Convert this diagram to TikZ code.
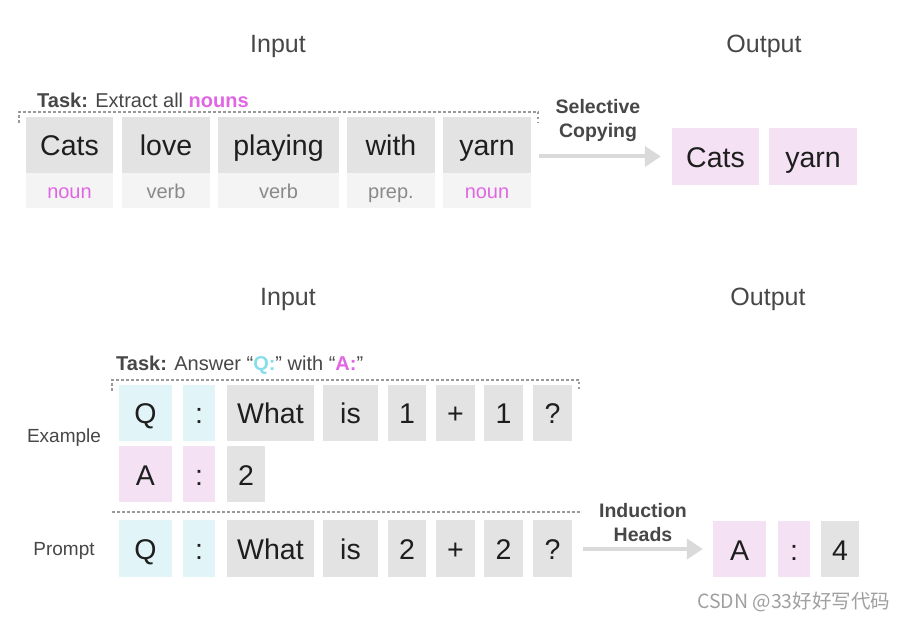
\documentclass[tikz,border=0pt]{standalone}
\usepackage{fontspec}
\setmainfont{Liberation Sans}
\newfontfamily\cjkfont{Noto Sans CJK SC}
\usetikzlibrary{arrows.meta,positioning}

\definecolor{tokgray}{HTML}{E3E3E3}
\definecolor{taggray}{HTML}{F4F4F4}
\definecolor{tokpink}{HTML}{F4E1F4}
\definecolor{tokcyan}{HTML}{E1F4F7}
\definecolor{nounpink}{HTML}{E066E4}
\definecolor{qcyan}{HTML}{86DEEA}
\definecolor{inkdark}{HTML}{1E1E1E}
\definecolor{labelgray}{HTML}{474747}
\definecolor{taggrey}{HTML}{8A8A8A}
\definecolor{flowgray}{HTML}{DADADA}
\definecolor{wmgray}{HTML}{A0A0A0}

\begin{document}
\begin{tikzpicture}[x=1pt, y=-1pt,
    word/.style={rectangle, fill=tokgray, minimum height=56pt, inner sep=0pt, text=inkdark, text height=22pt, text depth=0pt, font=\fontsize{28.5}{31}\selectfont},
    tag/.style={rectangle, fill=taggray, minimum height=35pt, inner sep=0pt, text height=15pt, text depth=0pt, font=\fontsize{20}{22}\selectfont},
    title/.style={font=\fontsize{25}{28}\selectfont, text=labelgray},
    tasklabel/.style={anchor=base west, inner sep=0pt, font=\fontsize{20}{22}\selectfont, text=labelgray},
    rowlabel/.style={font=\fontsize{19}{22}\selectfont, text=labelgray},
    flowlabel/.style={align=center, font=\bfseries\fontsize{19.5}{24}\selectfont, text=labelgray},
    flow/.style={line width=4pt, draw=flowgray, -{Triangle[length=16pt,width=20pt]}},
    bracket/.style={draw=gray!80, line width=1.1pt, dash pattern=on 2.5pt off 2.5pt}
]
\fill[white] (0,0) rectangle (906,620);
\useasboundingbox (0,0) rectangle (906,620);

% Selective copying
\node[title] (in1) at (278,46) {Input};
\node[title] (out1) at (764,46) {Output};
\node[tasklabel] (task1) at (37,108) {\textbf{Task:} Extract all \textbf{\textcolor{nounpink}{nouns}}};
\draw[bracket] (19,123) |- (538,112) -- (538,123);

\foreach \name/\txt/\xc/\w/\kind/\kcol in {cats/Cats/69.5/87/noun/nounpink, love/love/166/88/verb/taggrey, playing/playing/278.5/121/verb/taggrey, with/with/391/88/prep./taggrey, yarn/yarn/487/88/noun/nounpink} {
    \node[word, minimum width=\w pt] (\name) at (\xc,145) {\txt};
    \node[tag, minimum width=\w pt, text=\kcol, below=0pt of \name] (\name-tag) {\kind};
}

\node[word, fill=tokpink, minimum width=87pt, minimum height=57pt] (outcats) at (715.5,156.5) {Cats};
\node[word, fill=tokpink, minimum width=88pt, minimum height=57pt] (outyarn) at (813,156.5) {yarn};

\node[flowlabel] (sel) at (598,121) {Selective\\Copying};
\draw[flow, shorten <=8pt, shorten >=11pt] (yarn.east |- outcats.west) -- (outcats.west);

% Induction heads
\node[title] (in2) at (288,299) {Input};
\node[title] (out2) at (768,299) {Output};
\node[tasklabel] (task2) at (116,371) {\textbf{Task:} Answer “\textbf{\textcolor{qcyan}{Q:}}” with “\textbf{\textcolor{nounpink}{A:}}”};
\draw[bracket] (112,391) |- (579,380) -- (579,391);
\draw[bracket] (112,512) -- (580,512);

\node[rowlabel] (exlabel) at (64,438) {Example};
\node[rowlabel] (prlabel) at (64,551) {Prompt};

\foreach \i/\txt/\xc/\w/\col in {1/Q/145.5/53/tokcyan, 2/:/199/32/tokcyan, 3/What/270.5/87/tokgray, 4/is/350.5/55/tokgray, 5/1/407/38/tokgray, 6/+/455.5/39/tokgray, 7/1/503.5/39/tokgray, 8/?/552.5/39/tokgray} {
    \node[word, fill=\col, minimum width=\w pt] (ex\i) at (\xc,413) {\txt};
}
\foreach \i/\txt/\xc/\w/\col in {1/A/145.5/53/tokpink, 2/:/199/32/tokpink, 3/2/246/38/tokgray} {
    \node[word, fill=\col, minimum width=\w pt] (ans\i) at (\xc,474.5) {\txt};
}
\foreach \i/\txt/\xc/\w/\col in {1/Q/145.5/53/tokcyan, 2/:/199/32/tokcyan, 3/What/270.5/87/tokgray, 4/is/350.5/55/tokgray, 5/2/407/38/tokgray, 6/+/455.5/39/tokgray, 7/2/503.5/39/tokgray, 8/?/552.5/39/tokgray} {
    \node[word, fill=\col, minimum width=\w pt] (pr\i) at (\xc,548.5) {\txt};
}

\node[word, fill=tokpink, minimum width=53pt] (outa) at (739.5,549) {A};
\node[word, fill=tokpink, minimum width=32pt] (outcolon) at (794,549) {:};
\node[word, fill=tokgray, minimum width=38pt] (outfour) at (840,549) {4};

\node[flowlabel] (ind) at (643,523) {Induction\\Heads};
\draw[flow, shorten <=11pt, shorten >=10pt] (pr8.east |- outa.west) -- (outa.west);

\node[anchor=west, inner sep=0pt, font=\cjkfont\fontsize{19.5}{22}\selectfont, text=wmgray] (mark) at (697,602) {CSDN @33好好写代码};

\end{tikzpicture}
\end{document}
